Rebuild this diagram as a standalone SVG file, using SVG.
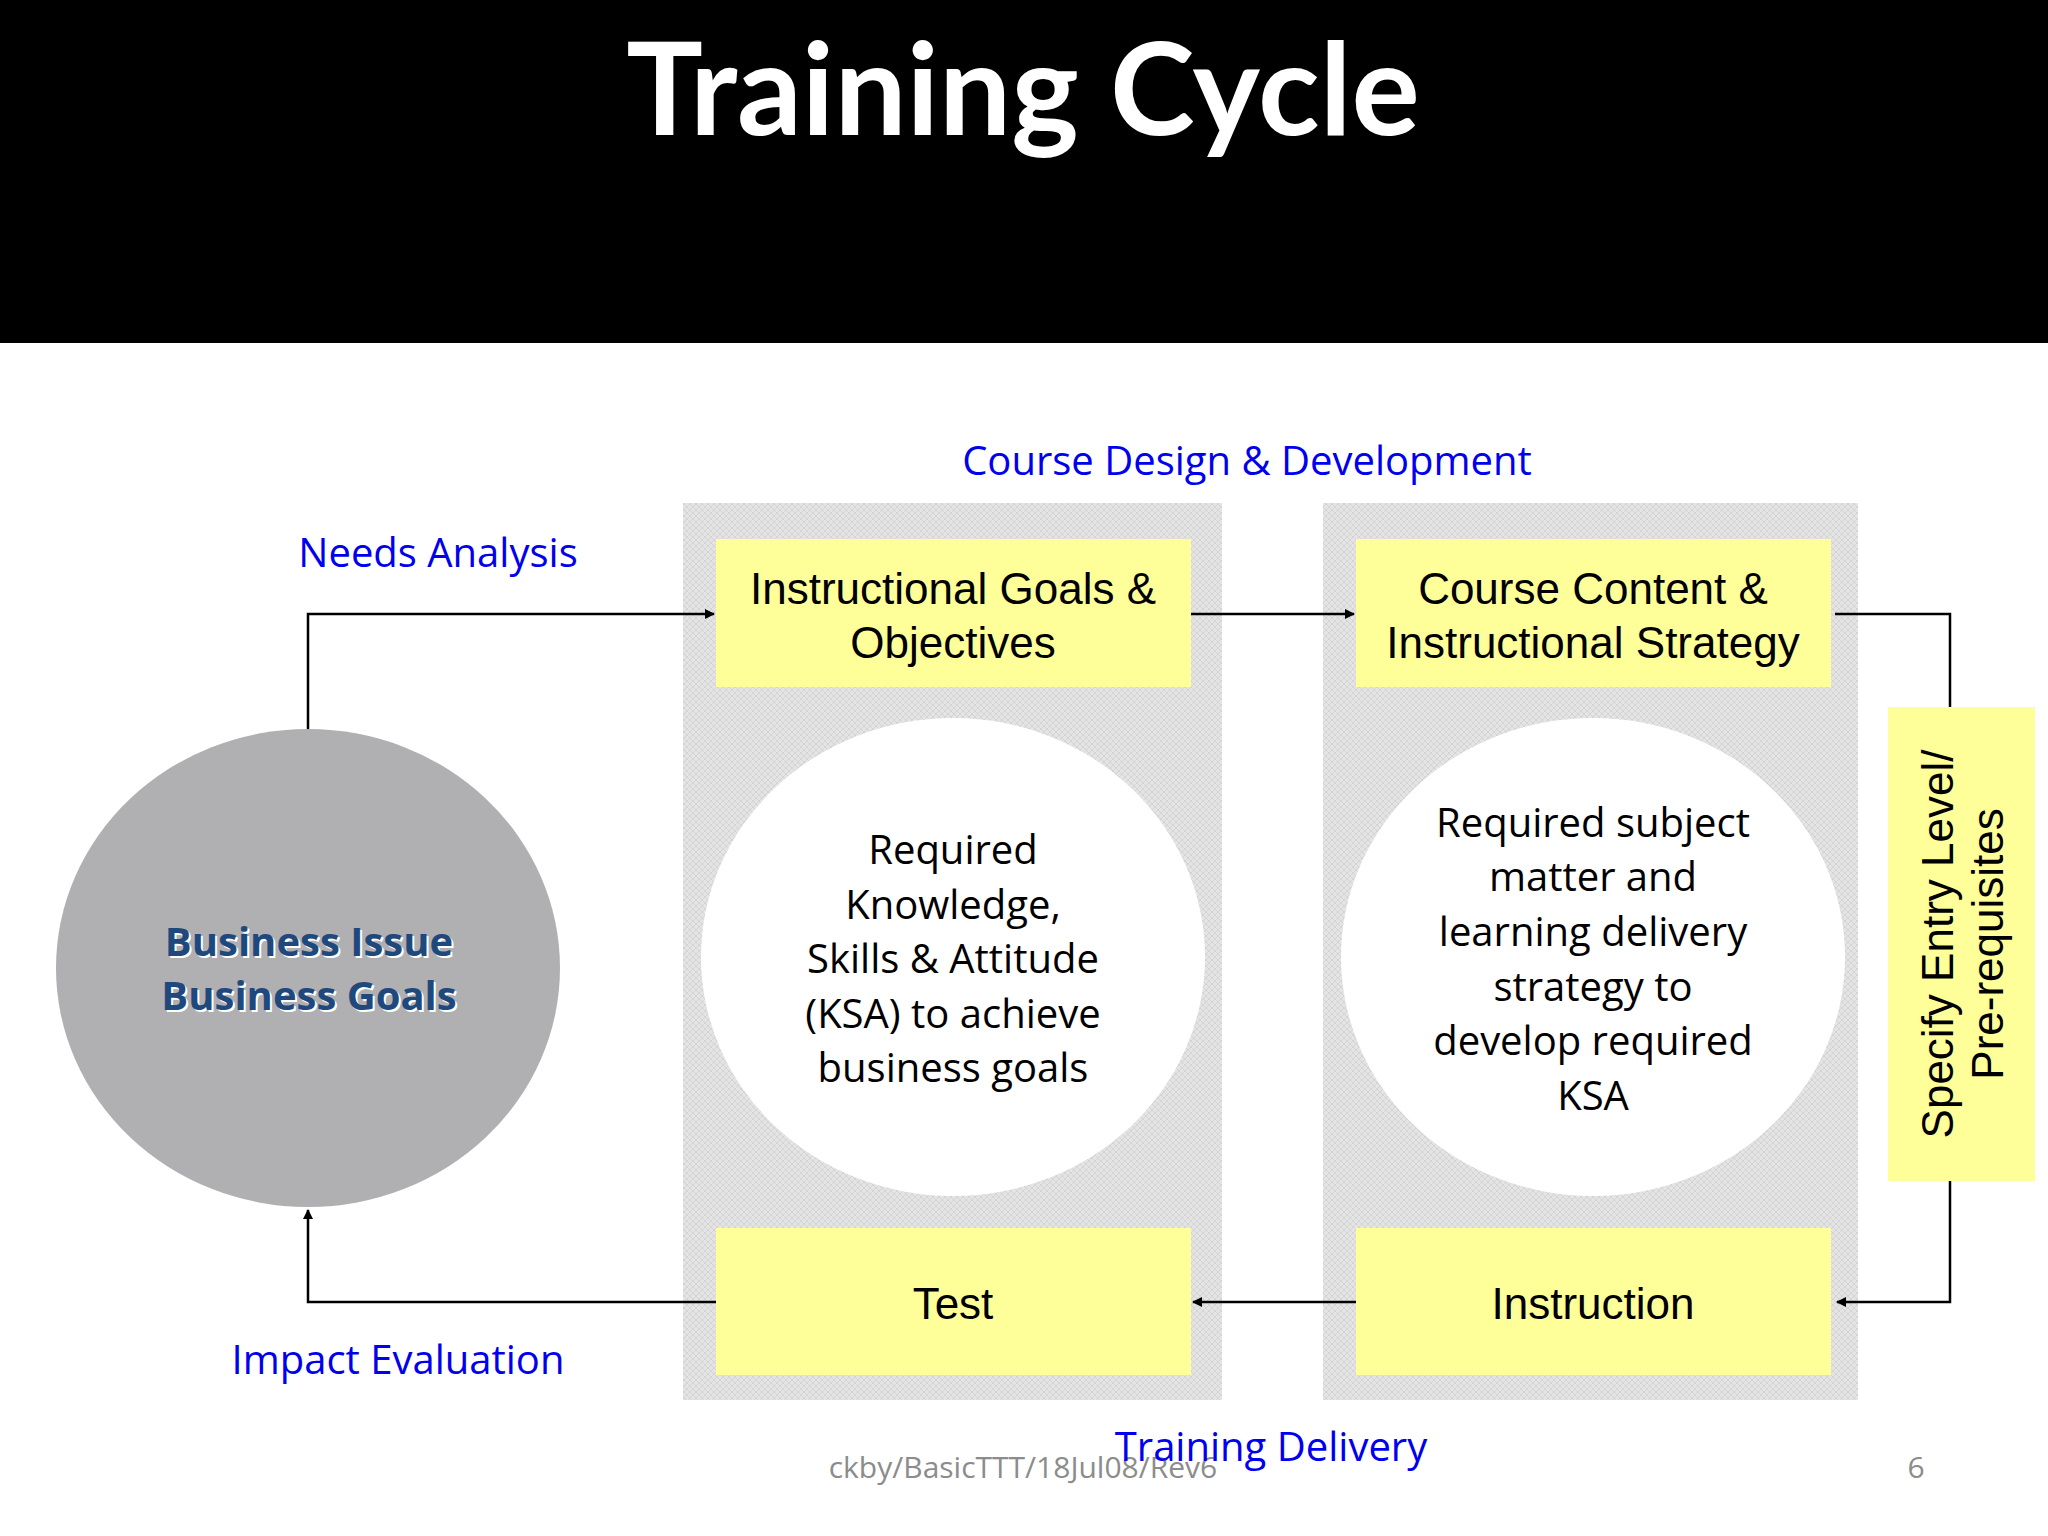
<svg xmlns="http://www.w3.org/2000/svg" width="2048" height="1536" viewBox="0 0 2048 1536">
<defs>
<pattern id="hatch" width="6" height="6" patternUnits="userSpaceOnUse"><rect width="6" height="6" fill="#e4e4e4"/><path d="M0 0L6 6M6 0L0 6" stroke="#d4d4d4" stroke-width="1"/></pattern>
<marker id="arr" markerWidth="10" markerHeight="10" refX="9" refY="5" orient="auto" markerUnits="userSpaceOnUse"><path d="M0 0L10 5L0 10z" fill="#000"/></marker>
</defs>
<style>
.box{fill:#ffff99}
.bt{font-family:"Liberation Sans",Arial,sans-serif;font-size:44px;fill:#000;text-anchor:middle}
.et{font-family:"Open Sans","Noto Sans",sans-serif;font-size:40px;fill:#000;text-anchor:middle}
.lbl{font-family:"Open Sans","Noto Sans",sans-serif;font-size:40px;fill:#0000ee;text-anchor:middle}
.ln{fill:none;stroke:#000;stroke-width:2.5}
</style>
<rect width="2048" height="1536" fill="#fff"/>
<rect width="2048" height="343" fill="#000"/>
<text x="1023" y="135" font-family="Lato,'Open Sans',sans-serif" font-weight="bold" font-size="128" fill="#fff" text-anchor="middle">Training Cycle</text>
<g id="panel-left"><rect x="683" y="503" width="539" height="897" fill="url(#hatch)"/></g>
<g id="panel-right"><rect x="1323" y="503" width="535" height="897" fill="url(#hatch)"/></g>
<g id="connectors">
<path class="ln" d="M308 729V614H714" marker-end="url(#arr)"/>
<path class="ln" d="M1191 614H1354" marker-end="url(#arr)"/>
<path class="ln" d="M1835 614H1950V1302H1837" marker-end="url(#arr)"/>
<path class="ln" d="M1356 1302H1193" marker-end="url(#arr)"/>
<path class="ln" d="M716 1302H308V1210" marker-end="url(#arr)"/>
</g>
<g id="goals"><rect class="box" x="716" y="539" width="475" height="148"/><text class="bt" x="953" y="604">Instructional Goals &amp;</text><text class="bt" x="953" y="658">Objectives</text></g>
<g id="content"><rect class="box" x="1356" y="539" width="475" height="148"/><text class="bt" x="1593" y="604">Course Content &amp;</text><text class="bt" x="1593" y="658">Instructional Strategy</text></g>
<g id="test"><rect class="box" x="716" y="1228" width="475" height="147"/><text class="bt" x="953" y="1319">Test</text></g>
<g id="instruction"><rect class="box" x="1356" y="1228" width="475" height="147"/><text class="bt" x="1593" y="1319">Instruction</text></g>
<g id="ksa"><ellipse cx="953" cy="957" rx="252" ry="239" fill="#fff"/>
<text class="et" x="953" y="864">Required</text><text class="et" x="953" y="919">Knowledge,</text><text class="et" x="953" y="973">Skills &amp; Attitude</text><text class="et" x="953" y="1028">(KSA)  to achieve</text><text class="et" x="953" y="1082">business goals</text></g>
<g id="subject"><ellipse cx="1593" cy="957" rx="252" ry="239" fill="#fff"/>
<text class="et" x="1593" y="837">Required subject</text><text class="et" x="1593" y="891">matter and</text><text class="et" x="1593" y="946">learning delivery</text><text class="et" x="1593" y="1001">strategy to</text><text class="et" x="1593" y="1055">develop required</text><text class="et" x="1593" y="1110">KSA</text></g>
<g id="business"><ellipse cx="308" cy="968" rx="252" ry="239" fill="#b0afb2"/>
<g font-family="'Open Sans','Noto Sans',sans-serif" font-weight="bold" font-size="40" text-anchor="middle">
<text x="311" y="958" fill="#fff">Business Issue</text><text x="311" y="1012" fill="#fff">Business Goals</text>
<text x="309" y="956" fill="#1f497d">Business Issue</text><text x="309" y="1010" fill="#1f497d">Business Goals</text></g></g>
<g id="entry"><rect class="box" x="1888" y="707" width="147" height="474"/>
<g transform="translate(1961 944) rotate(-90)"><text class="bt" x="0" y="-8">Specify  Entry Level/</text><text class="bt" x="0" y="42">Pre-requisites</text></g></g>
<text class="lbl" x="1247" y="475">Course Design &amp; Development</text>
<text class="lbl" x="438" y="567">Needs Analysis</text>
<text class="lbl" x="398" y="1374">Impact Evaluation</text>
<text x="1023" y="1478" font-family="'Open Sans',sans-serif" font-size="30" fill="#8c8c8c" text-anchor="middle">ckby/BasicTTT/18Jul08/Rev6</text>
<text x="1916" y="1478" font-family="'Open Sans',sans-serif" font-size="30" fill="#8c8c8c" text-anchor="middle">6</text>
<text class="lbl" x="1271" y="1461">Training Delivery</text>
</svg>
